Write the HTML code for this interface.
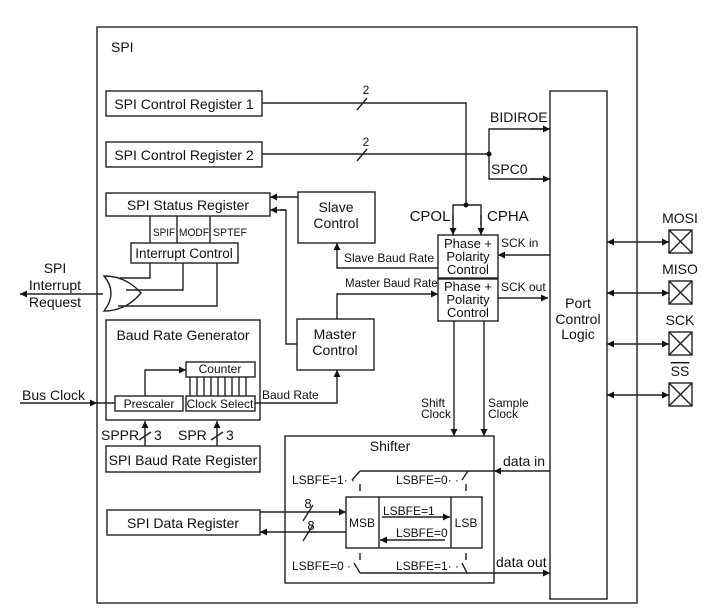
<!DOCTYPE html>
<html><head><meta charset="utf-8"><style>
html,body{margin:0;padding:0;background:#fff;}
svg{display:block;font-family:"Liberation Sans",Arial,sans-serif;}
text{fill:#111;}
</style></head><body>
<svg width="720" height="616" viewBox="0 0 720 616" xmlns="http://www.w3.org/2000/svg">
<defs>
<marker id="a" viewBox="0 0 10 10" refX="10" refY="5" markerWidth="10" markerHeight="7" orient="auto-start-reverse" markerUnits="userSpaceOnUse"><path d="M0,0 L10,5 L0,10 z" fill="#111"/></marker>
</defs>
<g fill="none" stroke="#222" stroke-width="1.4">
<rect x="97" y="27" width="540" height="576"/>
<rect x="106" y="91" width="156" height="25"/>
<rect x="106" y="142" width="156" height="25"/>
<rect x="106" y="193" width="164" height="23"/>
<rect x="131" y="243" width="107" height="20"/>
<rect x="298" y="192" width="77" height="51"/>
<rect x="297" y="319" width="77" height="51"/>
<rect x="438" y="235" width="60" height="43"/>
<rect x="438" y="279" width="60" height="42"/>
<rect x="550" y="91" width="57" height="508"/>
<rect x="106" y="320" width="154" height="100"/>
<rect x="186" y="362" width="69" height="15"/>
<rect x="115" y="396" width="68" height="15"/>
<rect x="186" y="396" width="69" height="15"/>
<rect x="106" y="446" width="154" height="26"/>
<rect x="285" y="436" width="209" height="147"/>
<rect x="346" y="497" width="136" height="51"/>
<line x1="379" y1="497" x2="379" y2="548"/>
<line x1="451" y1="497" x2="451" y2="548"/>
<rect x="107" y="510" width="153" height="25"/>
<g>
<rect x="669" y="230" width="23" height="23"/><path d="M669,230 L692,253 M692,230 L669,253"/>
<rect x="669" y="281" width="23" height="23"/><path d="M669,281 L692,304 M692,281 L669,304"/>
<rect x="669" y="332" width="23" height="23"/><path d="M669,332 L692,355 M692,332 L669,355"/>
<rect x="669" y="383" width="23" height="23"/><path d="M669,383 L692,406 M692,383 L669,406"/>
</g>
<line x1="607" y1="242" x2="669" y2="242" marker-start="url(#a)" marker-end="url(#a)"/>
<line x1="607" y1="293" x2="669" y2="293" marker-start="url(#a)" marker-end="url(#a)"/>
<line x1="607" y1="344" x2="669" y2="344" marker-start="url(#a)" marker-end="url(#a)"/>
<line x1="607" y1="395" x2="669" y2="395" marker-start="url(#a)" marker-end="url(#a)"/>
<polyline points="262,103 466,103 466,205"/>
<line x1="357" y1="110" x2="367" y2="98"/>
<line x1="262" y1="154" x2="489" y2="154"/>
<line x1="357" y1="161" x2="367" y2="149"/>
<polyline points="550,129 489,129 489,179 550,179" />
<line x1="530" y1="129" x2="550" y2="129" marker-end="url(#a)"/>
<line x1="530" y1="179" x2="550" y2="179" marker-end="url(#a)"/>
<polyline points="453,225 453,205 481,205 481,225"/>
<line x1="453" y1="215" x2="453" y2="235" marker-end="url(#a)"/>
<line x1="481" y1="215" x2="481" y2="235" marker-end="url(#a)"/>
<line x1="150" y1="216" x2="150" y2="243"/>
<line x1="177" y1="216" x2="177" y2="243"/>
<line x1="210" y1="216" x2="210" y2="243"/>
<line x1="298" y1="197" x2="270" y2="197" marker-end="url(#a)"/>
<polyline points="297,344 286,344 286,210 280,210"/>
<line x1="286" y1="210" x2="270" y2="210" marker-end="url(#a)"/>
<path d="M104,276 Q126,276 141,293 Q126,311 104,311 Q118,293 104,276 Z"/>
<polyline points="150,263 150,278 120,278"/>
<polyline points="183,263 183,290 126,290"/>
<polyline points="217,263 217,306 118,306"/>
<line x1="103" y1="294" x2="20" y2="294" marker-end="url(#a)"/>
<line x1="550" y1="255" x2="498" y2="255" marker-end="url(#a)"/>
<line x1="498" y1="298" x2="548" y2="298" marker-end="url(#a)"/>
<polyline points="438,268 337,268 337,243" marker-end="url(#a)"/>
<polyline points="337,319 337,294 438,294" marker-end="url(#a)"/>
<line x1="454" y1="321" x2="454" y2="436" marker-end="url(#a)"/>
<line x1="484" y1="321" x2="484" y2="436" marker-end="url(#a)"/>
<polyline points="145,396 145,370 186,370" marker-end="url(#a)"/>
<line x1="190" y1="377" x2="190" y2="396"/><line x1="197" y1="377" x2="197" y2="396"/><line x1="204" y1="377" x2="204" y2="396"/><line x1="211" y1="377" x2="211" y2="396"/><line x1="218" y1="377" x2="218" y2="396"/><line x1="225" y1="377" x2="225" y2="396"/><line x1="232" y1="377" x2="232" y2="396"/><line x1="239" y1="377" x2="239" y2="396"/><line x1="246" y1="377" x2="246" y2="396"/>
<line x1="20" y1="403" x2="97" y2="403" marker-end="url(#a)"/>
<line x1="97" y1="403" x2="115" y2="403"/>
<polyline points="255,403 337,403 337,370" marker-end="url(#a)"/>
<line x1="145" y1="446" x2="145" y2="421" marker-end="url(#a)"/>
<line x1="139" y1="440" x2="151" y2="432"/>
<line x1="217" y1="446" x2="217" y2="421" marker-end="url(#a)"/>
<line x1="211" y1="440" x2="223" y2="432"/>
<line x1="260" y1="512" x2="346" y2="512" marker-end="url(#a)"/>
<line x1="346" y1="532" x2="260" y2="532" marker-end="url(#a)"/>
<line x1="303" y1="521" x2="313" y2="505"/>
<line x1="303" y1="541" x2="313" y2="525"/>
<line x1="382" y1="517" x2="450" y2="517" marker-end="url(#a)"/>
<line x1="445" y1="540" x2="380" y2="540" marker-end="url(#a)"/>
<line x1="550" y1="471" x2="494" y2="471" marker-end="url(#a)"/>
<line x1="494" y1="471" x2="360" y2="471"/>
<line x1="352" y1="480" x2="360" y2="471"/>
<line x1="462" y1="480" x2="468" y2="471"/>
<line x1="360" y1="484" x2="360" y2="491"/>
<line x1="466" y1="484" x2="466" y2="491"/>
<line x1="360" y1="553" x2="360" y2="560"/>
<line x1="466" y1="553" x2="466" y2="560"/>
<line x1="354" y1="563" x2="360" y2="573"/>
<line x1="462" y1="563" x2="467" y2="573"/>
<line x1="360" y1="573" x2="550" y2="573" marker-end="url(#a)"/>
</g>
<circle cx="466" cy="205" r="2.5" fill="#111"/>
<circle cx="489" cy="154" r="2.5" fill="#111"/>
<g font-size="14">
<text x="111" y="52">SPI</text>
<text x="184" y="109" text-anchor="middle">SPI Control Register 1</text>
<text x="184" y="160" text-anchor="middle">SPI Control Register 2</text>
<text x="188" y="210" text-anchor="middle">SPI Status Register</text>
<text x="184" y="258" text-anchor="middle" font-size="13.5">Interrupt Control</text>
<text x="366" y="94" text-anchor="middle" font-size="12">2</text>
<text x="366" y="146" text-anchor="middle" font-size="12">2</text>
<text x="490" y="122">BIDIROE</text>
<text x="491" y="174">SPC0</text>
<text x="430" y="221" text-anchor="middle" font-size="15">CPOL</text>
<text x="487" y="221" font-size="15">CPHA</text>
<text x="336" y="212" text-anchor="middle">Slave</text>
<text x="336" y="228" text-anchor="middle">Control</text>
<text x="335" y="339" text-anchor="middle">Master</text>
<text x="335" y="355" text-anchor="middle">Control</text>
<text x="578" y="308" text-anchor="middle">Port</text>
<text x="578" y="324" text-anchor="middle">Control</text>
<text x="578" y="339" text-anchor="middle">Logic</text>
<text x="680" y="223" text-anchor="middle">MOSI</text>
<text x="680" y="274" text-anchor="middle">MISO</text>
<text x="680" y="325" text-anchor="middle">SCK</text>
<text x="680" y="376" text-anchor="middle" text-decoration="overline">SS</text>
<text x="55" y="273" text-anchor="middle">SPI</text>
<text x="55" y="290" text-anchor="middle">Interrupt</text>
<text x="55" y="307" text-anchor="middle">Request</text>
<text x="183" y="340" text-anchor="middle">Baud Rate Generator</text>
<text x="22" y="400">Bus Clock</text>
<text x="183" y="465" text-anchor="middle">SPI Baud Rate Register</text>
<text x="101" y="440">SPPR</text>
<text x="154" y="440">3</text>
<text x="178" y="440">SPR</text>
<text x="226" y="440">3</text>
<text x="183" y="528" text-anchor="middle">SPI Data Register</text>
<text x="390" y="451" text-anchor="middle">Shifter</text>
<text x="503" y="466">data in</text>
<text x="496" y="567">data out</text>
</g>
<g font-size="12">
<text x="153" y="236" font-size="11" textLength="22" lengthAdjust="spacingAndGlyphs">SPIF</text>
<text x="179" y="236" font-size="11" textLength="30" lengthAdjust="spacingAndGlyphs">MODF</text>
<text x="213" y="236" font-size="11" textLength="34" lengthAdjust="spacingAndGlyphs">SPTEF</text>
<text x="468" y="248" text-anchor="middle" font-size="13">Phase +</text>
<text x="468" y="261" text-anchor="middle" font-size="13">Polarity</text>
<text x="468" y="274" text-anchor="middle" font-size="13">Control</text>
<text x="468" y="291" text-anchor="middle" font-size="13">Phase +</text>
<text x="468" y="304" text-anchor="middle" font-size="13">Polarity</text>
<text x="468" y="317" text-anchor="middle" font-size="13">Control</text>
<text x="501" y="247">SCK in</text>
<text x="501" y="291">SCK out</text>
<text x="344" y="262">Slave Baud Rate</text>
<text x="345" y="287" font-size="11.5">Master Baud Rate</text>
<text x="421" y="407">Shift</text>
<text x="421" y="418">Clock</text>
<text x="488" y="407">Sample</text>
<text x="488" y="418">Clock</text>
<text x="220" y="373" text-anchor="middle">Counter</text>
<text x="149" y="408" text-anchor="middle">Prescaler</text>
<text x="220" y="408" text-anchor="middle">Clock Select</text>
<text x="262" y="399">Baud Rate</text>
<text x="292" y="484">LSBFE=1· ·</text>
<text x="396" y="484">LSBFE=0· ·</text>
<text x="292" y="570">LSBFE=0 ·</text>
<text x="396" y="570">LSBFE=1· ·</text>
<text x="383" y="515">LSBFE=1</text>
<text x="396" y="537">LSBFE=0</text>
<text x="362" y="527" text-anchor="middle">MSB</text>
<text x="466" y="527" text-anchor="middle">LSB</text>
<text x="308" y="508" text-anchor="middle" font-size="13">8</text>
<text x="311" y="530" text-anchor="middle" font-size="13">8</text>
</g>
</svg>
</body></html>
